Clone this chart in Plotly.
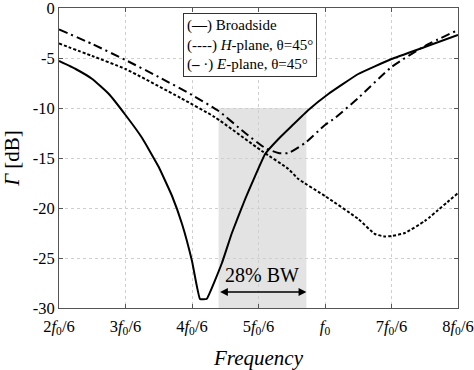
import plotly.graph_objects as go

# Frequency in units of f0/6
tick_vals = [2, 3, 4, 5, 6, 7, 8]
tick_text = ["2<i>f</i><sub>0</sub>/6", "3<i>f</i><sub>0</sub>/6", "4<i>f</i><sub>0</sub>/6",
             "5<i>f</i><sub>0</sub>/6", "<i>f</i><sub>0</sub>", "7<i>f</i><sub>0</sub>/6",
             "8<i>f</i><sub>0</sub>/6"]
y_tick_vals = [0, -5, -10, -15, -20, -25, -30]
y_tick_text = ["0", "-5", "-10", "-15", "-20", "-25", "-30"]

broad_x = [2.0, 2.25, 2.5, 2.75, 3.0, 3.25, 3.5, 3.7, 3.85, 4.0, 4.12, 4.22, 4.45, 4.6, 4.8, 5.1, 5.3, 5.5, 5.75, 6.05, 6.5, 7.0, 7.5, 8.0]
broad_y = [-5.3, -6.1, -7.1, -8.6, -10.7, -13.0, -15.9, -18.8, -21.6, -25.3, -29.1, -29.1, -25.5, -22.5, -19.1, -14.6, -13.1, -11.8, -10.2, -8.6, -6.6, -5.1, -3.9, -2.7]

h_x = [2.0, 2.5, 3.0, 3.83, 4.34, 5.05, 5.45, 5.6, 6.0, 6.5, 6.75, 6.9, 7.0, 7.2, 7.5, 8.0]
h_y = [-3.55, -4.8, -6.1, -9.0, -10.9, -14.3, -16.1, -17.1, -18.8, -21.1, -22.6, -22.85, -22.8, -22.5, -21.3, -18.5]

e_x = [2.0, 2.5, 3.0, 3.5, 4.0, 4.4, 4.8, 5.1, 5.3, 5.45, 5.7, 6.0, 6.15, 6.5, 7.0, 7.5, 8.0]
e_y = [-2.15, -3.6, -5.2, -6.9, -8.7, -10.3, -12.5, -14.0, -14.5, -14.5, -13.5, -11.7, -11.0, -9.0, -5.9, -3.8, -2.2]

bw_start, bw_end, bw_top = 4.40, 5.72, -10
bw_label = "28% BW"

font = "Liberation Serif, Times New Roman, serif"

fig = go.Figure()
fig.add_shape(type="rect", xref="x", yref="y", x0=bw_start, x1=bw_end, y0=-30, y1=bw_top,
              fillcolor="#e3e3e3", line_width=0, layer="below")

fig.add_trace(go.Scatter(x=broad_x, y=broad_y, mode="lines", line=dict(color="black", width=2, shape="spline", smoothing=0.3), name="Broadside"))
fig.add_trace(go.Scatter(x=h_x, y=h_y, mode="lines", line=dict(color="black", width=2, dash="3px,2px", shape="spline", smoothing=0.5), name="H-plane"))
fig.add_trace(go.Scatter(x=e_x, y=e_y, mode="lines", line=dict(color="black", width=2, dash="9px,4px,2px,4px", shape="spline", smoothing=0.5), name="E-plane"))

# BW arrow
fig.add_annotation(x=bw_end, y=-28.4, ax=bw_start, ay=-28.4, xref="x", yref="y", axref="x", ayref="y",
                   text="", showarrow=True, arrowhead=2, arrowside="end+start", arrowsize=1.2,
                   arrowwidth=1.3, arrowcolor="black")
fig.add_annotation(x=(bw_start + bw_end) / 2, y=-26.7, xref="x", yref="y", text=bw_label,
                   showarrow=False, font=dict(family=font, size=20, color="black"))

# Legend box
fig.add_annotation(x=0.31, y=0.985, xref="paper", yref="paper", xanchor="left", yanchor="top",
                   text="(<b>—</b>) Broadside<br>(----) <i>H</i>-plane, θ=45°<br>(<b>–</b> ·) <i>E</i>-plane, θ=45°",
                   align="left", showarrow=False, bordercolor="#333", borderwidth=1, borderpad=3,
                   bgcolor="white", font=dict(family=font, size=15, color="black"))

axis_common = dict(showline=True, linecolor="#555", linewidth=1, mirror="ticks", ticks="inside",
                   ticklen=4, tickcolor="#555", showgrid=True, gridcolor="#cfcfcf", griddash="dot",
                   gridwidth=1, zeroline=False, ticklabeloverflow="allow", automargin=False,
                   tickfont=dict(family=font, size=16.5, color="black"))

fig.update_xaxes(range=[2, 8], tickvals=tick_vals, ticktext=tick_text, ticklabelstandoff=3,
                 title=dict(text="<i>Frequency</i>", font=dict(family=font, size=21, color="black"), standoff=14),
                 **axis_common)
fig.update_yaxes(range=[-30, 0], tickvals=y_tick_vals, ticktext=y_tick_text,
                 title=dict(text="<i>Γ</i> [dB]", font=dict(family=font, size=21, color="black"), standoff=8),
                 **axis_common)

fig.update_layout(width=474, height=370, margin=dict(l=59, r=16, t=8, b=62),
                  plot_bgcolor="white", paper_bgcolor="white", showlegend=False)

fig.write_html("out.html", config={"displayModeBar": False},
               post_script="document.body.style.margin='0';document.body.style.padding='0';")
